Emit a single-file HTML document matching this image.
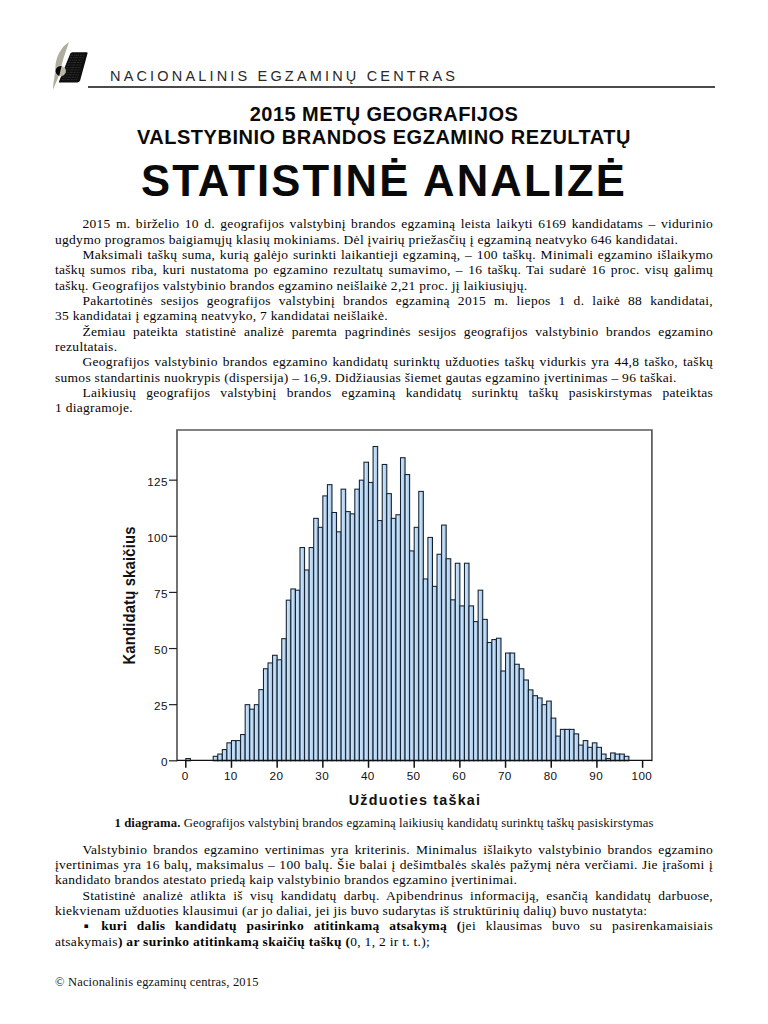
<!DOCTYPE html>
<html lang="lt"><head><meta charset="utf-8"><title>Statistinė analizė</title>
<style>
html,body{margin:0;padding:0;background:#fff;}
body{width:768px;height:1024px;position:relative;overflow:hidden;color:#050505;}
.ln{position:absolute;white-space:nowrap;font-family:"Liberation Serif","Times New Roman",serif;font-size:13.5px;letter-spacing:0.29px;line-height:15.33px;height:15.33px;}
.ln.j{text-align:justify;text-align-last:justify;white-space:nowrap;}
.ln.l{text-align:left;}
.logo{position:absolute;}
.hdr{position:absolute;left:110px;top:65.6px;font-family:"Liberation Sans",Arial,sans-serif;font-size:14.5px;letter-spacing:3.17px;color:#2a2a2a;white-space:nowrap;line-height:20px;}
.hline{position:absolute;left:88px;top:86.2px;width:626.5px;height:1.6px;background:#4a4a4a;}
.t1,.t2,.t3{position:absolute;left:0;width:768px;text-align:center;font-family:"Liberation Sans",Arial,sans-serif;font-weight:bold;white-space:nowrap;color:#0a0a0a;}
.t1,.t2{font-size:20px;letter-spacing:0.45px;line-height:24px;}
.t2{letter-spacing:0.53px;}
.t3{font-size:43.6px;letter-spacing:2.16px;line-height:50px;}
.chart{position:absolute;left:0;top:0;}
.chart .tl{font-family:"Liberation Sans",Arial,sans-serif;font-size:11.7px;letter-spacing:0.35px;fill:#111;}
.chart .at{font-family:"Liberation Sans",Arial,sans-serif;font-size:14.3px;font-weight:bold;fill:#111;letter-spacing:1.22px;}
.chart .yt{font-size:16px;letter-spacing:0.2px;}
.cap{position:absolute;left:0;width:768px;text-align:center;font-family:"Liberation Serif","Times New Roman",serif;font-size:12.7px;letter-spacing:0.1px;white-space:nowrap;line-height:14px;color:#111;}
.foot{position:absolute;left:55px;font-family:"Liberation Serif","Times New Roman",serif;font-size:12.5px;letter-spacing:0.17px;white-space:nowrap;line-height:14px;color:#111;}
</style></head><body>
<svg class="logo" width="50" height="60" viewBox="45 36 50 60" style="left:45px;top:36px">
<path d="M68.9 42.3 C68.3 44 67.8 45.5 67.5 46.6 C66.8 48.6 66.2 50.3 65.5 52.3 C64.8 54.3 64.2 56.2 63.6 58.1 C63 60 62.5 62 62 63.8 L60.8 69 L58.3 77 C57.5 79.5 56.5 81.5 55.4 83.8 C54.6 85.8 53.8 87.8 52.9 89.8 C53 87.5 53.2 85.5 53.4 83.8 C53.6 81.8 53.9 80 54.3 78.1 L55.2 70 L55.6 63.8 C56 61.8 56.4 60 57 58.1 C57.7 56 58.5 54.2 59.6 52.3 C60.8 50.3 62.1 48.4 63.5 46.6 C65.2 45 67 43.6 68.9 42.3 Z" fill="#b0ad9c"/>
<path d="M72.4 52.3 L86.6 52.3 Q88 52.3 87.5 53.6 L80.1 80.6 Q79.5 82.4 77.6 82.4 L59.5 82.4 Q58.6 82.4 59 81.5 L70.2 53.8 Q70.8 52.3 72.4 52.3 Z" fill="#0e0e0e"/>
<g stroke="#4a4a4a" stroke-width="0.55" stroke-dasharray="2.2 0.8 1.5 0.7 3 0.9"><line x1="70.89" y1="55.20" x2="84.82" y2="55.20"/><line x1="69.96" y1="57.65" x2="84.08" y2="57.65"/><line x1="69.02" y1="60.10" x2="83.34" y2="60.10"/><line x1="68.08" y1="62.55" x2="82.60" y2="62.55"/><line x1="67.15" y1="65.00" x2="81.86" y2="65.00"/><line x1="66.21" y1="67.45" x2="81.12" y2="67.45"/><line x1="65.28" y1="69.90" x2="80.38" y2="69.90"/><line x1="64.34" y1="72.35" x2="79.64" y2="72.35"/><line x1="63.40" y1="74.80" x2="78.90" y2="74.80"/><line x1="62.47" y1="77.25" x2="78.16" y2="77.25"/><line x1="61.53" y1="79.70" x2="77.42" y2="79.70"/></g>
<circle cx="60.4" cy="71" r="5.1" fill="#b9b6a6" stroke="#d8d6cc" stroke-width="0.6"/>
<path d="M61.6 66.05 A5.1 5.1 0 0 0 59.2 75.95 Z" fill="#080808"/>
</svg>
<div class="hdr">NACIONALINIS EGZAMINŲ CENTRAS</div>
<div class="hline"></div>
<div class="t1" style="top:102px">2015 METŲ GEOGRAFIJOS</div>
<div class="t2" style="top:124.6px">VALSTYBINIO BRANDOS EGZAMINO REZULTATŲ</div>
<div class="t3" style="top:156px">STATISTINĖ ANALIZĖ</div>
<div class="ln j" style="top:216.38px;left:82.50px;width:630.50px;">2015 m. birželio 10 d. geografijos valstybinį brandos egzaminą leista laikyti 6169 kandidatams – vidurinio</div>
<div class="ln l" style="top:231.71px;left:55.00px;width:658.00px;">ugdymo programos baigiamųjų klasių mokiniams. Dėl įvairių priežasčių į egzaminą neatvyko 646 kandidatai.</div>
<div class="ln j" style="top:247.04px;left:82.50px;width:630.50px;">Maksimali taškų suma, kurią galėjo surinkti laikantieji egzaminą, – 100 taškų. Minimali egzamino išlaikymo</div>
<div class="ln j" style="top:262.37px;left:55.00px;width:658.00px;">taškų sumos riba, kuri nustatoma po egzamino rezultatų sumavimo, – 16 taškų. Tai sudarė 16 proc. visų galimų</div>
<div class="ln l" style="top:277.70px;left:55.00px;width:658.00px;">taškų. Geografijos valstybinio brandos egzamino neišlaikė 2,21 proc. jį laikiusiųjų.</div>
<div class="ln j" style="top:293.03px;left:82.50px;width:630.50px;">Pakartotinės sesijos geografijos valstybinį brandos egzaminą 2015 m. liepos 1 d. laikė 88 kandidatai,</div>
<div class="ln l" style="top:308.36px;left:55.00px;width:658.00px;">35 kandidatai į egzaminą neatvyko, 7 kandidatai neišlaikė.</div>
<div class="ln j" style="top:323.69px;left:82.50px;width:630.50px;">Žemiau pateikta statistinė analizė paremta pagrindinės sesijos geografijos valstybinio brandos egzamino</div>
<div class="ln l" style="top:339.02px;left:55.00px;width:658.00px;">rezultatais.</div>
<div class="ln j" style="top:354.35px;left:82.50px;width:630.50px;">Geografijos valstybinio brandos egzamino kandidatų surinktų užduoties taškų vidurkis yra 44,8 taško, taškų</div>
<div class="ln l" style="top:369.68px;left:55.00px;width:658.00px;">sumos standartinis nuokrypis (dispersija) – 16,9. Didžiausias šiemet gautas egzamino įvertinimas – 96 taškai.</div>
<div class="ln j" style="top:385.01px;left:82.50px;width:630.50px;">Laikiusių geografijos valstybinį brandos egzaminą kandidatų surinktų taškų pasiskirstymas pateiktas</div>
<div class="ln l" style="top:400.34px;left:55.00px;width:658.00px;">1 diagramoje.</div>
<div class="ln j" style="top:841.78px;left:82.50px;width:630.50px;">Valstybinio brandos egzamino vertinimas yra kriterinis. Minimalus išlaikyto valstybinio brandos egzamino</div>
<div class="ln j" style="top:857.11px;left:55.00px;width:658.00px;">įvertinimas yra 16 balų, maksimalus – 100 balų. Šie balai į dešimtbalės skalės pažymį nėra verčiami. Jie įrašomi į</div>
<div class="ln l" style="top:872.44px;left:55.00px;width:658.00px;">kandidato brandos atestato priedą kaip valstybinio brandos egzamino įvertinimai.</div>
<div class="ln j" style="top:887.77px;left:82.50px;width:630.50px;">Statistinė analizė atlikta iš visų kandidatų darbų. Apibendrinus informaciją, esančią kandidatų darbuose,</div>
<div class="ln l" style="top:903.10px;left:55.00px;width:658.00px;">kiekvienam užduoties klausimui (ar jo daliai, jei jis buvo sudarytas iš struktūrinių dalių) buvo nustatyta:</div>
<div class="ln j" style="top:918.43px;left:55.00px;width:658.00px;left:101.2px;width:611.8px;"><b>kuri dalis kandidatų pasirinko atitinkamą atsakymą (</b>jei klausimas buvo su pasirenkamaisiais</div>
<div class="ln l" style="top:918.93px;left:83.5px;width:20px;font-size:14.5px">▪</div>
<div class="ln l" style="top:933.76px;left:55.00px;width:658.00px;">atsakymais<b>) ar surinko atitinkamą skaičių taškų (</b>0, 1, 2 ir t. t.);</div>

<svg class="chart" width="768" height="1024" viewBox="0 0 768 1024">
<rect x="185.80" y="758.55" width="4.568" height="2.25" fill="url(#bg)" stroke="#122131" stroke-width="1.05"/>
<rect x="213.21" y="756.31" width="4.568" height="4.49" fill="url(#bg)" stroke="#122131" stroke-width="1.05"/>
<rect x="217.78" y="754.06" width="4.568" height="6.74" fill="url(#bg)" stroke="#122131" stroke-width="1.05"/>
<rect x="222.34" y="749.57" width="4.568" height="11.23" fill="url(#bg)" stroke="#122131" stroke-width="1.05"/>
<rect x="226.91" y="742.84" width="4.568" height="17.96" fill="url(#bg)" stroke="#122131" stroke-width="1.05"/>
<rect x="231.48" y="740.59" width="4.568" height="20.21" fill="url(#bg)" stroke="#122131" stroke-width="1.05"/>
<rect x="236.05" y="740.59" width="4.568" height="20.21" fill="url(#bg)" stroke="#122131" stroke-width="1.05"/>
<rect x="240.62" y="734.53" width="4.568" height="26.27" fill="url(#bg)" stroke="#122131" stroke-width="1.05"/>
<rect x="245.18" y="704.67" width="4.568" height="56.12" fill="url(#bg)" stroke="#122131" stroke-width="1.05"/>
<rect x="249.75" y="709.16" width="4.568" height="51.64" fill="url(#bg)" stroke="#122131" stroke-width="1.05"/>
<rect x="254.32" y="704.67" width="4.568" height="56.12" fill="url(#bg)" stroke="#122131" stroke-width="1.05"/>
<rect x="258.89" y="689.63" width="4.568" height="71.17" fill="url(#bg)" stroke="#122131" stroke-width="1.05"/>
<rect x="263.46" y="668.75" width="4.568" height="92.05" fill="url(#bg)" stroke="#122131" stroke-width="1.05"/>
<rect x="268.02" y="662.92" width="4.568" height="97.88" fill="url(#bg)" stroke="#122131" stroke-width="1.05"/>
<rect x="272.59" y="655.28" width="4.568" height="105.52" fill="url(#bg)" stroke="#122131" stroke-width="1.05"/>
<rect x="277.16" y="659.77" width="4.568" height="101.03" fill="url(#bg)" stroke="#122131" stroke-width="1.05"/>
<rect x="281.73" y="638.67" width="4.568" height="122.13" fill="url(#bg)" stroke="#122131" stroke-width="1.05"/>
<rect x="286.30" y="600.17" width="4.568" height="160.63" fill="url(#bg)" stroke="#122131" stroke-width="1.05"/>
<rect x="290.86" y="588.95" width="4.568" height="171.85" fill="url(#bg)" stroke="#122131" stroke-width="1.05"/>
<rect x="295.43" y="590.18" width="4.568" height="170.62" fill="url(#bg)" stroke="#122131" stroke-width="1.05"/>
<rect x="300.00" y="547.52" width="4.568" height="213.28" fill="url(#bg)" stroke="#122131" stroke-width="1.05"/>
<rect x="304.57" y="569.97" width="4.568" height="190.83" fill="url(#bg)" stroke="#122131" stroke-width="1.05"/>
<rect x="309.14" y="547.52" width="4.568" height="213.28" fill="url(#bg)" stroke="#122131" stroke-width="1.05"/>
<rect x="313.70" y="518.34" width="4.568" height="242.46" fill="url(#bg)" stroke="#122131" stroke-width="1.05"/>
<rect x="318.27" y="527.32" width="4.568" height="233.48" fill="url(#bg)" stroke="#122131" stroke-width="1.05"/>
<rect x="322.84" y="495.89" width="4.568" height="264.91" fill="url(#bg)" stroke="#122131" stroke-width="1.05"/>
<rect x="327.41" y="484.66" width="4.568" height="276.13" fill="url(#bg)" stroke="#122131" stroke-width="1.05"/>
<rect x="331.98" y="512.50" width="4.568" height="248.30" fill="url(#bg)" stroke="#122131" stroke-width="1.05"/>
<rect x="336.54" y="531.81" width="4.568" height="228.99" fill="url(#bg)" stroke="#122131" stroke-width="1.05"/>
<rect x="341.11" y="489.15" width="4.568" height="271.65" fill="url(#bg)" stroke="#122131" stroke-width="1.05"/>
<rect x="345.68" y="511.60" width="4.568" height="249.20" fill="url(#bg)" stroke="#122131" stroke-width="1.05"/>
<rect x="350.25" y="513.85" width="4.568" height="246.95" fill="url(#bg)" stroke="#122131" stroke-width="1.05"/>
<rect x="354.82" y="489.15" width="4.568" height="271.65" fill="url(#bg)" stroke="#122131" stroke-width="1.05"/>
<rect x="359.38" y="480.17" width="4.568" height="280.62" fill="url(#bg)" stroke="#122131" stroke-width="1.05"/>
<rect x="363.95" y="462.21" width="4.568" height="298.59" fill="url(#bg)" stroke="#122131" stroke-width="1.05"/>
<rect x="368.52" y="482.42" width="4.568" height="278.38" fill="url(#bg)" stroke="#122131" stroke-width="1.05"/>
<rect x="373.09" y="446.50" width="4.568" height="314.30" fill="url(#bg)" stroke="#122131" stroke-width="1.05"/>
<rect x="377.66" y="520.58" width="4.568" height="240.22" fill="url(#bg)" stroke="#122131" stroke-width="1.05"/>
<rect x="382.22" y="464.46" width="4.568" height="296.34" fill="url(#bg)" stroke="#122131" stroke-width="1.05"/>
<rect x="386.79" y="493.64" width="4.568" height="267.16" fill="url(#bg)" stroke="#122131" stroke-width="1.05"/>
<rect x="391.36" y="518.34" width="4.568" height="242.46" fill="url(#bg)" stroke="#122131" stroke-width="1.05"/>
<rect x="395.93" y="514.75" width="4.568" height="246.05" fill="url(#bg)" stroke="#122131" stroke-width="1.05"/>
<rect x="400.50" y="457.72" width="4.568" height="303.07" fill="url(#bg)" stroke="#122131" stroke-width="1.05"/>
<rect x="405.06" y="474.56" width="4.568" height="286.24" fill="url(#bg)" stroke="#122131" stroke-width="1.05"/>
<rect x="409.63" y="550.89" width="4.568" height="209.91" fill="url(#bg)" stroke="#122131" stroke-width="1.05"/>
<rect x="414.20" y="527.32" width="4.568" height="233.48" fill="url(#bg)" stroke="#122131" stroke-width="1.05"/>
<rect x="418.77" y="491.40" width="4.568" height="269.40" fill="url(#bg)" stroke="#122131" stroke-width="1.05"/>
<rect x="423.34" y="578.95" width="4.568" height="181.84" fill="url(#bg)" stroke="#122131" stroke-width="1.05"/>
<rect x="427.90" y="537.42" width="4.568" height="223.38" fill="url(#bg)" stroke="#122131" stroke-width="1.05"/>
<rect x="432.47" y="586.36" width="4.568" height="174.44" fill="url(#bg)" stroke="#122131" stroke-width="1.05"/>
<rect x="437.04" y="554.26" width="4.568" height="206.54" fill="url(#bg)" stroke="#122131" stroke-width="1.05"/>
<rect x="441.61" y="525.07" width="4.568" height="235.73" fill="url(#bg)" stroke="#122131" stroke-width="1.05"/>
<rect x="446.18" y="558.75" width="4.568" height="202.05" fill="url(#bg)" stroke="#122131" stroke-width="1.05"/>
<rect x="450.74" y="599.83" width="4.568" height="160.97" fill="url(#bg)" stroke="#122131" stroke-width="1.05"/>
<rect x="455.31" y="563.24" width="4.568" height="197.56" fill="url(#bg)" stroke="#122131" stroke-width="1.05"/>
<rect x="459.88" y="605.89" width="4.568" height="154.91" fill="url(#bg)" stroke="#122131" stroke-width="1.05"/>
<rect x="464.45" y="563.24" width="4.568" height="197.56" fill="url(#bg)" stroke="#122131" stroke-width="1.05"/>
<rect x="469.02" y="605.89" width="4.568" height="154.91" fill="url(#bg)" stroke="#122131" stroke-width="1.05"/>
<rect x="473.58" y="621.61" width="4.568" height="139.19" fill="url(#bg)" stroke="#122131" stroke-width="1.05"/>
<rect x="478.15" y="590.18" width="4.568" height="170.62" fill="url(#bg)" stroke="#122131" stroke-width="1.05"/>
<rect x="482.72" y="619.37" width="4.568" height="141.44" fill="url(#bg)" stroke="#122131" stroke-width="1.05"/>
<rect x="487.29" y="642.49" width="4.568" height="118.31" fill="url(#bg)" stroke="#122131" stroke-width="1.05"/>
<rect x="491.86" y="639.57" width="4.568" height="121.23" fill="url(#bg)" stroke="#122131" stroke-width="1.05"/>
<rect x="496.42" y="638.22" width="4.568" height="122.58" fill="url(#bg)" stroke="#122131" stroke-width="1.05"/>
<rect x="500.99" y="671.00" width="4.568" height="89.80" fill="url(#bg)" stroke="#122131" stroke-width="1.05"/>
<rect x="505.56" y="653.04" width="4.568" height="107.76" fill="url(#bg)" stroke="#122131" stroke-width="1.05"/>
<rect x="510.13" y="653.04" width="4.568" height="107.76" fill="url(#bg)" stroke="#122131" stroke-width="1.05"/>
<rect x="514.70" y="664.26" width="4.568" height="96.54" fill="url(#bg)" stroke="#122131" stroke-width="1.05"/>
<rect x="519.26" y="668.75" width="4.568" height="92.05" fill="url(#bg)" stroke="#122131" stroke-width="1.05"/>
<rect x="523.83" y="679.98" width="4.568" height="80.82" fill="url(#bg)" stroke="#122131" stroke-width="1.05"/>
<rect x="528.40" y="689.86" width="4.568" height="70.94" fill="url(#bg)" stroke="#122131" stroke-width="1.05"/>
<rect x="532.97" y="695.69" width="4.568" height="65.11" fill="url(#bg)" stroke="#122131" stroke-width="1.05"/>
<rect x="537.54" y="697.94" width="4.568" height="62.86" fill="url(#bg)" stroke="#122131" stroke-width="1.05"/>
<rect x="542.10" y="704.67" width="4.568" height="56.12" fill="url(#bg)" stroke="#122131" stroke-width="1.05"/>
<rect x="546.67" y="701.08" width="4.568" height="59.72" fill="url(#bg)" stroke="#122131" stroke-width="1.05"/>
<rect x="551.24" y="718.14" width="4.568" height="42.66" fill="url(#bg)" stroke="#122131" stroke-width="1.05"/>
<rect x="555.81" y="736.10" width="4.568" height="24.70" fill="url(#bg)" stroke="#122131" stroke-width="1.05"/>
<rect x="560.38" y="729.37" width="4.568" height="31.43" fill="url(#bg)" stroke="#122131" stroke-width="1.05"/>
<rect x="564.94" y="729.37" width="4.568" height="31.43" fill="url(#bg)" stroke="#122131" stroke-width="1.05"/>
<rect x="569.51" y="729.37" width="4.568" height="31.43" fill="url(#bg)" stroke="#122131" stroke-width="1.05"/>
<rect x="574.08" y="733.86" width="4.568" height="26.94" fill="url(#bg)" stroke="#122131" stroke-width="1.05"/>
<rect x="578.65" y="745.08" width="4.568" height="15.71" fill="url(#bg)" stroke="#122131" stroke-width="1.05"/>
<rect x="583.22" y="740.59" width="4.568" height="20.21" fill="url(#bg)" stroke="#122131" stroke-width="1.05"/>
<rect x="587.78" y="747.33" width="4.568" height="13.47" fill="url(#bg)" stroke="#122131" stroke-width="1.05"/>
<rect x="592.35" y="742.84" width="4.568" height="17.96" fill="url(#bg)" stroke="#122131" stroke-width="1.05"/>
<rect x="596.92" y="747.33" width="4.568" height="13.47" fill="url(#bg)" stroke="#122131" stroke-width="1.05"/>
<rect x="601.49" y="754.06" width="4.568" height="6.74" fill="url(#bg)" stroke="#122131" stroke-width="1.05"/>
<rect x="606.06" y="758.55" width="4.568" height="2.25" fill="url(#bg)" stroke="#122131" stroke-width="1.05"/>
<rect x="610.62" y="752.94" width="4.568" height="7.86" fill="url(#bg)" stroke="#122131" stroke-width="1.05"/>
<rect x="615.19" y="754.06" width="4.568" height="6.74" fill="url(#bg)" stroke="#122131" stroke-width="1.05"/>
<rect x="619.76" y="754.06" width="4.568" height="6.74" fill="url(#bg)" stroke="#122131" stroke-width="1.05"/>
<rect x="624.33" y="756.31" width="4.568" height="4.49" fill="url(#bg)" stroke="#122131" stroke-width="1.05"/>
<path d="M177.0 761.3 V430.0 H651.9 V761.3" fill="none" stroke="#5a5a5a" stroke-width="1.7"/>
<line x1="177.0" y1="760.4" x2="651.9" y2="760.4" stroke="#111" stroke-width="1.3"/>
<line x1="169.0" y1="760.80" x2="177.0" y2="760.80" stroke="#222" stroke-width="1.2"/>
<text x="167.8" y="766.40" class="tl" text-anchor="end">0</text>
<line x1="169.0" y1="704.67" x2="177.0" y2="704.67" stroke="#222" stroke-width="1.2"/>
<text x="167.8" y="710.27" class="tl" text-anchor="end">25</text>
<line x1="169.0" y1="648.55" x2="177.0" y2="648.55" stroke="#222" stroke-width="1.2"/>
<text x="167.8" y="654.15" class="tl" text-anchor="end">50</text>
<line x1="169.0" y1="592.42" x2="177.0" y2="592.42" stroke="#222" stroke-width="1.2"/>
<text x="167.8" y="598.02" class="tl" text-anchor="end">75</text>
<line x1="169.0" y1="536.30" x2="177.0" y2="536.30" stroke="#222" stroke-width="1.2"/>
<text x="167.8" y="541.90" class="tl" text-anchor="end">100</text>
<line x1="169.0" y1="480.17" x2="177.0" y2="480.17" stroke="#222" stroke-width="1.2"/>
<text x="167.8" y="485.77" class="tl" text-anchor="end">125</text>
<line x1="185.80" y1="760.8" x2="185.80" y2="767.8" stroke="#111" stroke-width="1.5"/>
<text x="185.10" y="780.00" class="tl" text-anchor="middle">0</text>
<line x1="231.48" y1="760.8" x2="231.48" y2="767.8" stroke="#111" stroke-width="1.5"/>
<text x="230.78" y="780.00" class="tl" text-anchor="middle">10</text>
<line x1="277.16" y1="760.8" x2="277.16" y2="767.8" stroke="#111" stroke-width="1.5"/>
<text x="276.46" y="780.00" class="tl" text-anchor="middle">20</text>
<line x1="322.84" y1="760.8" x2="322.84" y2="767.8" stroke="#111" stroke-width="1.5"/>
<text x="322.14" y="780.00" class="tl" text-anchor="middle">30</text>
<line x1="368.52" y1="760.8" x2="368.52" y2="767.8" stroke="#111" stroke-width="1.5"/>
<text x="367.82" y="780.00" class="tl" text-anchor="middle">40</text>
<line x1="414.20" y1="760.8" x2="414.20" y2="767.8" stroke="#111" stroke-width="1.5"/>
<text x="413.50" y="780.00" class="tl" text-anchor="middle">50</text>
<line x1="459.88" y1="760.8" x2="459.88" y2="767.8" stroke="#111" stroke-width="1.5"/>
<text x="459.18" y="780.00" class="tl" text-anchor="middle">60</text>
<line x1="505.56" y1="760.8" x2="505.56" y2="767.8" stroke="#111" stroke-width="1.5"/>
<text x="504.86" y="780.00" class="tl" text-anchor="middle">70</text>
<line x1="551.24" y1="760.8" x2="551.24" y2="767.8" stroke="#111" stroke-width="1.5"/>
<text x="550.54" y="780.00" class="tl" text-anchor="middle">80</text>
<line x1="596.92" y1="760.8" x2="596.92" y2="767.8" stroke="#111" stroke-width="1.5"/>
<text x="596.22" y="780.00" class="tl" text-anchor="middle">90</text>
<line x1="642.60" y1="760.8" x2="642.60" y2="767.8" stroke="#111" stroke-width="1.5"/>
<text x="641.90" y="780.00" class="tl" text-anchor="middle">100</text>
<text x="415.0" y="804.8" class="at" text-anchor="middle">Užduoties taškai</text>
<text transform="translate(135.4 595.5) rotate(-90) scale(0.925 1)" class="at yt" text-anchor="middle">Kandidatų skaičius</text>
<defs><linearGradient id="bg" x1="0" x2="1" y1="0" y2="0"><stop offset="0" stop-color="#bcd8f3"/><stop offset="0.35" stop-color="#c9e2fa"/><stop offset="0.75" stop-color="#adcbe8"/><stop offset="1" stop-color="#8eafcf"/></linearGradient></defs>
</svg>
<div class="cap" style="top:816px"><b>1 diagrama.</b> Geografijos valstybinį brandos egzaminą laikiusių kandidatų surinktų taškų pasiskirstymas</div>
<div class="foot" style="top:975px">© Nacionalinis egzaminų centras, 2015</div>
</body></html>
